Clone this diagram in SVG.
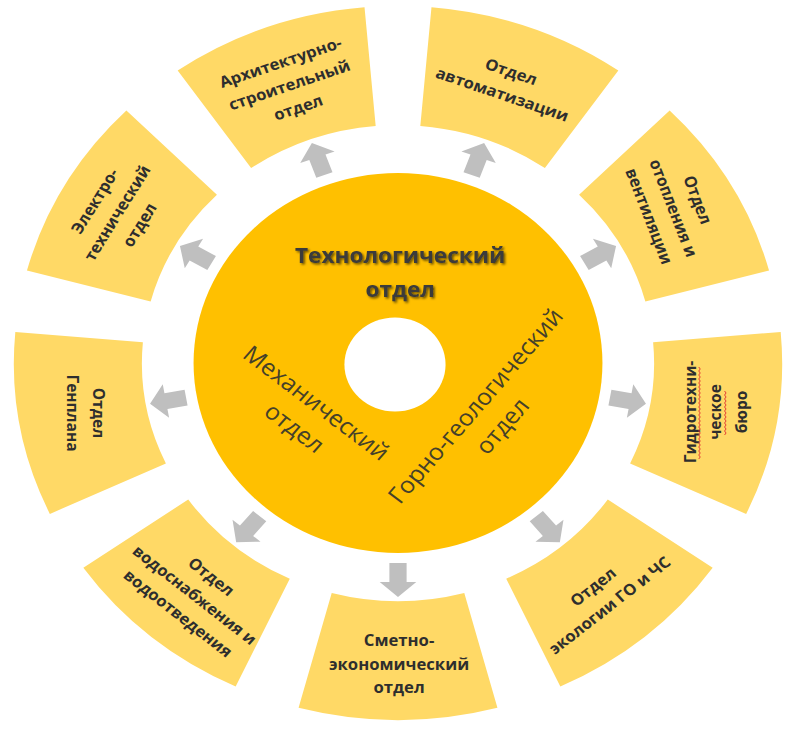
<svg xmlns="http://www.w3.org/2000/svg" xmlns:xlink="http://www.w3.org/1999/xlink" width="789" height="732" viewBox="0 0 789 732">
<style>
.seg{fill:#FFD966}
.arr{fill:#BFBFBF}
.lbl{font-family:"Open Sans","DejaVu Sans",sans-serif;font-weight:700;font-size:15.5px;fill:#2E2E2E;text-anchor:middle}
.title{font-family:"Open Sans","DejaVu Sans",sans-serif;font-weight:700;font-size:21px;fill:#3A3A3A;text-anchor:middle}
.sub{font-family:"Open Sans","DejaVu Sans",sans-serif;font-weight:400;font-size:23px;fill:#45402A;text-anchor:middle}
.sq{fill:none;stroke:#E03030;stroke-width:0.9}
</style>
<defs>
<path id="seg" d="M -92.40,-344.84 A 357 357 0 0 1 92.40,-344.84 L 61.60,-229.89 A 238 238 0 0 0 -61.60,-229.89 Z"/>
<polygon id="arr" points="-8,-200 8,-200 8,-219 17,-219 0,-234 -17,-219 -8,-219"/>
<filter id="sh" x="-10%" y="-40%" width="120%" height="180%">
<feDropShadow dx="1.5" dy="1.5" stdDeviation="0.9" flood-color="#000" flood-opacity="0.6"/>
</filter>
</defs>
<rect width="789" height="732" fill="#FFFFFF"/>
<g transform="translate(398,363) scale(1.076,1)">
<g id="center">
<circle r="190" fill="#FFC000"/>
<circle cx="-2.8" cy="1.5" r="47" fill="#FFFFFF"/>
<text class="title" filter="url(#sh)"><tspan x="2" y="-100">Технологический</tspan><tspan x="2" y="-66">отдел</tspan></text>
<text class="sub" transform="translate(-76,40) rotate(39)"><tspan x="0" y="8">Механический</tspan><tspan x="0" y="40">отдел</tspan></text>
<text class="sub" transform="translate(72,43) rotate(-51)"><tspan x="0" y="8">Горно-геологический</tspan><tspan x="0" y="40">отдел</tspan></text>
</g>
<g id="connectors">
<use xlink:href="#arr" class="arr" transform="rotate(-20)"/>
<use xlink:href="#arr" class="arr" transform="rotate(20)"/>
<use xlink:href="#arr" class="arr" transform="rotate(60)"/>
<use xlink:href="#arr" class="arr" transform="rotate(100)"/>
<use xlink:href="#arr" class="arr" transform="rotate(140)"/>
<use xlink:href="#arr" class="arr" transform="rotate(180)"/>
<use xlink:href="#arr" class="arr" transform="rotate(220)"/>
<use xlink:href="#arr" class="arr" transform="rotate(260)"/>
<use xlink:href="#arr" class="arr" transform="rotate(300)"/>
</g>
<g id="arch">
<use xlink:href="#seg" class="seg" transform="rotate(-20)"/>
<text class="lbl" transform="translate(-101,-278) rotate(-20)"><tspan x="0" y="-18.5">Архитектурно-</tspan><tspan x="0" y="5.5">строительный</tspan><tspan x="0" y="29.5">отдел</tspan></text>
</g>
<g id="avtomat">
<use xlink:href="#seg" class="seg" transform="rotate(20)"/>
<text class="lbl" transform="translate(101,-280) rotate(20)"><tspan x="0" y="-6.5">Отдел</tspan><tspan x="0" y="17.5">автоматизации</tspan></text>
</g>
<g id="otopl">
<use xlink:href="#seg" class="seg" transform="rotate(60)"/>
<text class="lbl" transform="translate(256,-155) rotate(70)"><tspan x="0" y="-18.5">Отдел</tspan><tspan x="0" y="5.5">отопления и</tspan><tspan x="0" y="29.5">вентиляции</tspan></text>
</g>
<g id="gidro">
<use xlink:href="#seg" class="seg" transform="rotate(100)"/>
<g transform="translate(295,49) rotate(-90)">
<text class="lbl"><tspan x="0" y="-18.5">Гидротехни-</tspan><tspan x="0" y="5.5">ческое</tspan><tspan x="0" y="29.5">бюро</tspan></text>
<path class="sq" d="M -47,-15.5 l 2,1.4 l 2,-1.4 l 2,1.4 l 2,-1.4 l 2,1.4 l 2,-1.4 l 2,1.4 l 2,-1.4 l 2,1.4 l 2,-1.4 l 2,1.4 l 2,-1.4 l 2,1.4 l 2,-1.4 l 2,1.4 l 2,-1.4 l 2,1.4 l 2,-1.4 l 2,1.4 l 2,-1.4 l 2,1.4 l 2,-1.4 l 2,1.4 l 2,-1.4 l 2,1.4 l 2,-1.4 l 2,1.4 l 2,-1.4 l 2,1.4 l 2,-1.4 l 2,1.4 l 2,-1.4 l 2,1.4 l 2,-1.4 l 2,1.4 l 2,-1.4 l 2,1.4 l 2,-1.4 l 2,1.4 l 2,-1.4 l 2,1.4 l 2,-1.4 l 2,1.4 l 2,-1.4 l 2,1.4 l 2,-1.4"/>
<path class="sq" d="M -23,8.5 l 2,1.4 l 2,-1.4 l 2,1.4 l 2,-1.4 l 2,1.4 l 2,-1.4 l 2,1.4 l 2,-1.4 l 2,1.4 l 2,-1.4 l 2,1.4 l 2,-1.4 l 2,1.4 l 2,-1.4 l 2,1.4 l 2,-1.4 l 2,1.4 l 2,-1.4 l 2,1.4 l 2,-1.4 l 2,1.4 l 2,-1.4"/>
</g>
</g>
<g id="ekolog">
<use xlink:href="#seg" class="seg" transform="rotate(140)"/>
<text class="lbl" transform="translate(189,233) rotate(-40)"><tspan x="0" y="-6.5">Отдел</tspan><tspan x="0" y="17.5">экологии ГО и ЧС</tspan></text>
</g>
<g id="smetno">
<use xlink:href="#seg" class="seg" transform="rotate(180)"/>
<text class="lbl" transform="translate(1,301)"><tspan x="0" y="-18.5">Сметно-</tspan><tspan x="0" y="5.5">экономический</tspan><tspan x="0" y="29.5">отдел</tspan></text>
</g>
<g id="vodosn">
<use xlink:href="#seg" class="seg" transform="rotate(220)"/>
<text class="lbl" transform="translate(-189,232) rotate(40)"><tspan x="0" y="-18.5">Отдел</tspan><tspan x="0" y="5.5">водоснабжения и</tspan><tspan x="0" y="29.5">водоотведения</tspan></text>
</g>
<g id="genplan">
<use xlink:href="#seg" class="seg" transform="rotate(260)"/>
<text class="lbl" transform="translate(-290,50) rotate(90)"><tspan x="0" y="-6.5">Отдел</tspan><tspan x="0" y="17.5">Генплана</tspan></text>
</g>
<g id="elektro">
<use xlink:href="#seg" class="seg" transform="rotate(300)"/>
<text class="lbl" transform="translate(-261,-150) rotate(-60)"><tspan x="0" y="-18.5">Электро-</tspan><tspan x="0" y="5.5">технический</tspan><tspan x="0" y="29.5">отдел</tspan></text>
</g>
</g>
</svg>
